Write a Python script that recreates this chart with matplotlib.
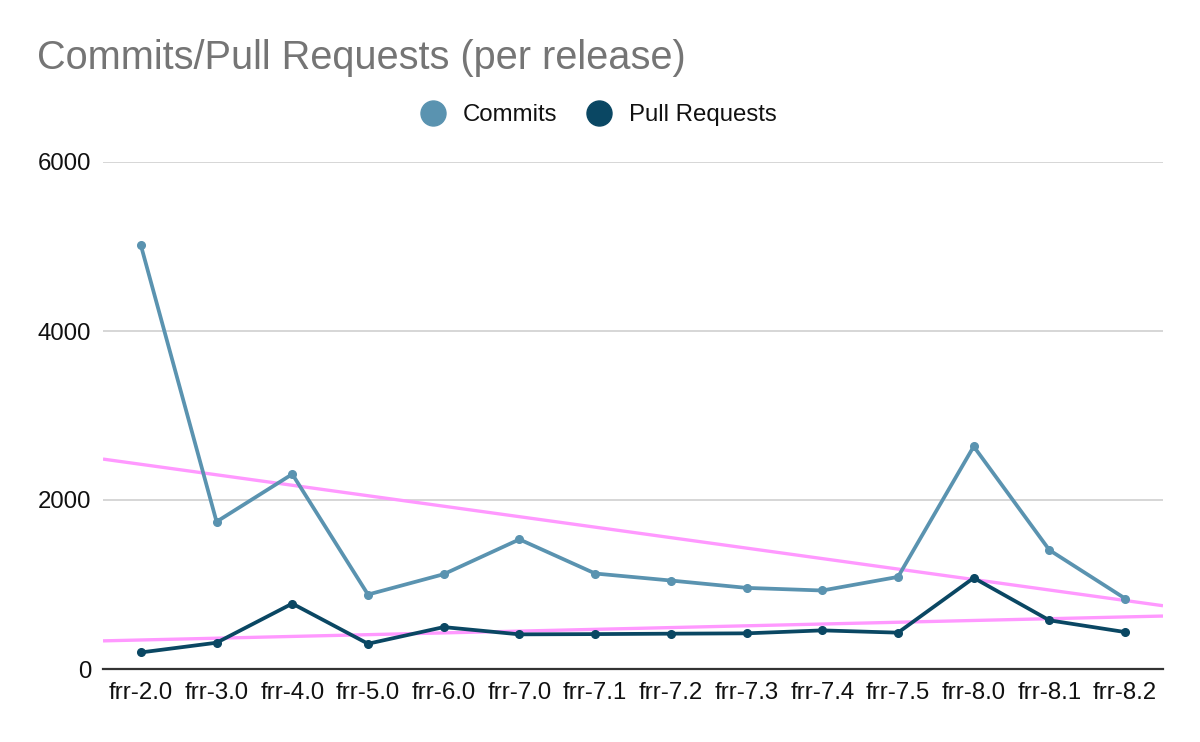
import matplotlib
matplotlib.use("Agg")
import matplotlib.pyplot as plt
import numpy as np
from matplotlib.lines import Line2D

plt.rcParams["font.family"] = ["Liberation Sans", "DejaVu Sans"]

releases = ["frr-2.0", "frr-3.0", "frr-4.0", "frr-5.0", "frr-6.0", "frr-7.0", "frr-7.1",
            "frr-7.2", "frr-7.3", "frr-7.4", "frr-7.5", "frr-8.0", "frr-8.1", "frr-8.2"]
commits = [5015, 1743, 2306, 881, 1122, 1534, 1130, 1047, 960, 929, 1090, 2634, 1407, 834]
pull_requests = [196, 311, 774, 299, 496, 410, 413, 418, 422, 457, 430, 1078, 576, 437]

C_COMMITS = "#5a93b0"
C_PRS = "#0a4763"
C_TREND = "#ff99ff"

fig = plt.figure(figsize=(12, 7.42), dpi=100)
ax = fig.add_axes([103 / 1200, 1 - 669 / 742, 1060 / 1200, 507 / 742])

x = np.arange(len(releases))
xt = np.array([-0.5, len(releases) - 0.5])
for vals in (commits, pull_requests):
    k, b = np.polyfit(x, vals, 1)
    ax.plot(xt, k * xt + b, color=C_TREND, lw=2.4, zorder=2, solid_capstyle="butt")

ax.plot(x, commits, color=C_COMMITS, lw=2.7, marker="o", markersize=5.5, zorder=3)
ax.plot(x, pull_requests, color=C_PRS, lw=2.7, marker="o", markersize=5.5, zorder=4)

ax.set_xlim(-0.5, len(releases) - 0.5)
ax.set_ylim(0, 6000)
ax.set_yticks([0, 2000, 4000, 6000])
ax.set_xticks(x, releases)
ax.tick_params(axis="both", length=0, labelsize=17.3, colors="#111111")
ax.tick_params(axis="y", pad=8.5)
ax.tick_params(axis="x", pad=9.5)
ax.grid(axis="y", color="#cccccc", lw=1.1)
ax.set_axisbelow(True)
for s in ("top", "right", "left"):
    ax.spines[s].set_visible(False)
ax.spines["bottom"].set_color("#333333")
ax.spines["bottom"].set_linewidth(1.6)
ax.spines["bottom"].set_zorder(5)

fig.text(37 / 1200, 1 - 58 / 742, "Commits/Pull Requests (per release)", fontsize=28.6,
         color="#757575", va="center", ha="left")

handles = [
    Line2D([], [], ls="none", marker="o", markersize=18, color=C_COMMITS),
    Line2D([], [], ls="none", marker="o", markersize=18, color=C_PRS),
]
fig.legend(handles, ["Commits", "Pull Requests"], loc="center", bbox_to_anchor=(593 / 1200, 1 - 115 / 742),
           ncol=2, frameon=False, fontsize=17.3, handletextpad=0.25, columnspacing=0.74,
           labelcolor="#111111")

fig.savefig("out.png", dpi=100)
